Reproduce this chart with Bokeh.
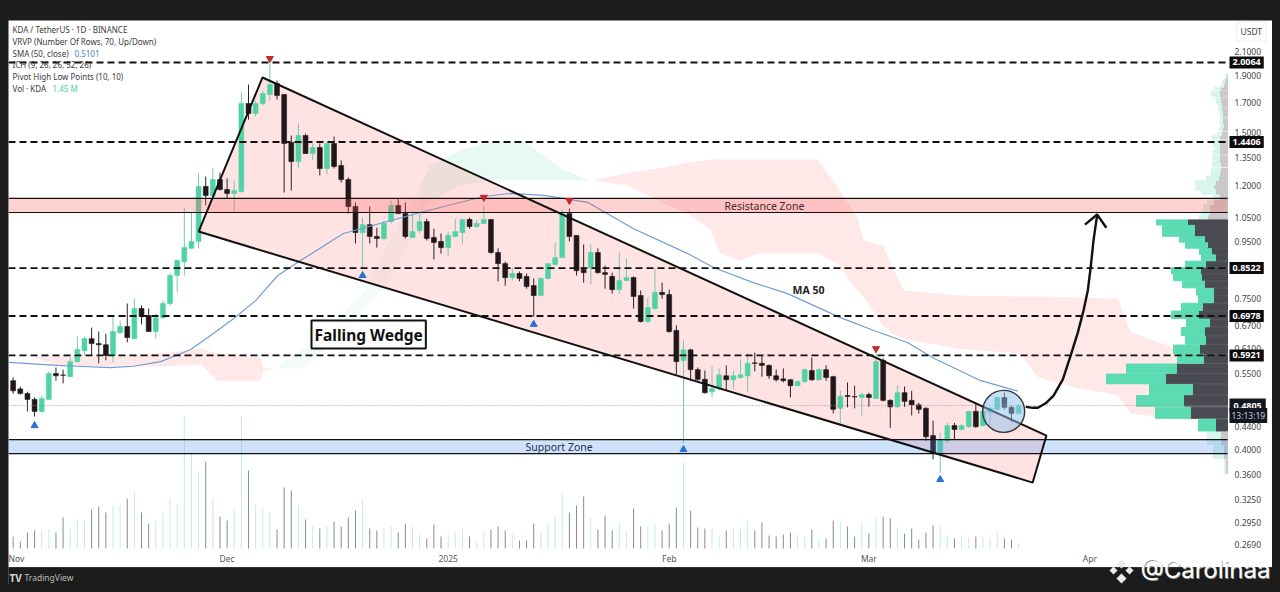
from bokeh.plotting import figure
from bokeh.embed import file_html
from bokeh.resources import INLINE
from bokeh.models import Label, Range1d, FixedTicker, NumeralTickFormatter, PolyAnnotation, LinearScale

# ---------- candles: day number counted from 1 Nov 2024 ----------
opens = [.533,.515,.505,.493,.469,.493,.549,.546,.542,.577,.604,.635,.622,.619,.592,.651,.668,.635,.720,.699,.654,.693,
 .735,.826,.875,.925,.952,1.197,1.153,1.232,1.182,1.163,1.172,1.691,1.622,1.691,1.756,1.838,1.756,1.438,1.328,1.480,1.373,1.408,1.290,1.432,1.306,1.232,1.101,.988,1.021,.972,.964,1.034,1.106,1.069,.968,.996,
 1.034,.968,.952,.928,.972,.988,1.043,1.013,1.026,1.043,.909,.868,.819,.833,.823,.792,.760,.816,.865,.890,1.069,.976,.847,.854,.909,.836,.823,.779,.809,.819,.760,.682,.720,.770,.763,.657,.580,.606,.558,.536,.509,.516,.544,.535,.540,.544,.574,.573,.568,.544,.537,.535,.522,.531,.556,.535,.558,.542,.475,
 .501,.499,.497,.503,.495,.580,.491,.478,.507,.491,.482,.475,.424,.394,.415,.442,.435,.440,.469,.442,.467,.473,.497,.477,.465]
highs = [.540,.520,.509,.497,.501,.554,.563,.558,.587,.640,.640,.665,.654,.648,.696,.685,.735,.750,.729,.720,.705,.744,
 .835,.883,1.097,1.074,1.263,1.248,1.295,1.268,1.238,1.227,1.771,1.830,1.712,1.785,1.998,1.861,1.756,1.480,1.556,1.492,1.432,1.432,1.438,1.474,1.334,1.243,1.120,1.051,1.101,1.008,1.039,1.129,1.138,1.120,1.069,1.069,
 1.047,1.004,.984,.992,1.047,1.047,1.051,1.043,1.106,1.043,.925,.875,.854,.840,.833,.816,.819,.868,.948,1.088,1.092,.976,.940,.940,.925,.861,.836,.909,.886,.823,.776,.754,.850,.802,.779,.671,.630,.609,.563,.556,.566,.561,.568,.556,.582,.597,.599,.592,.570,.558,.561,.537,.533,.561,.587,.563,.568,.544,.511,
 .529,.522,.507,.507,.597,.585,.493,.522,.520,.511,.486,.477,.451,.429,.447,.447,.445,.469,.485,.477,.477,.499,.507,.480,.483]
lows = [.505,.503,.469,.459,.467,.493,.533,.527,.542,.575,.592,.592,.573,.580,.575,.648,.625,.633,.674,.654,.635,.690,
 .729,.770,.826,.925,.925,1.106,1.143,1.177,1.138,1.074,1.167,1.582,1.602,1.677,1.712,1.719,1.167,1.177,1.290,1.373,1.334,1.253,1.258,1.290,1.217,1.069,.944,.854,.944,.928,.956,1.026,1.069,.964,.968,.984,
 .956,.883,.905,.894,.968,.944,1.004,1.008,1.026,.905,.806,.792,.809,.806,.782,.696,.757,.812,.861,.890,.952,.826,.802,.796,.833,.782,.766,.766,.806,.720,.679,.679,.717,.750,.651,.547,.411,.533,.533,.505,.497,.511,.511,.514,.537,.509,.554,.542,.537,.531,.529,.497,.520,.527,.533,.533,.533,.465,.447,
 .477,.475,.461,.478,.495,.489,.438,.475,.478,.461,.465,.415,.384,.363,.411,.418,.433,.438,.438,.440,.443,.471,.473,.449,.463]
closes = [.511,.505,.493,.469,.495,.549,.544,.545,.577,.607,.635,.622,.619,.592,.654,.668,.638,.720,.696,.654,.693,.735,
 .826,.879,.928,.952,1.197,1.153,1.232,1.182,1.163,1.177,1.691,1.622,1.691,1.763,1.830,1.749,1.432,1.328,1.480,1.373,1.408,1.290,1.432,1.301,1.232,1.101,.988,1.021,.972,.964,1.026,1.106,1.069,.972,.992,1.034,
 .964,.948,.928,.976,.992,1.043,1.013,1.026,1.043,.909,.868,.819,.833,.816,.789,.760,.816,.868,.890,1.069,.972,.843,.836,.909,.836,.830,.779,.809,.819,.757,.682,.723,.770,.763,.654,.577,.606,.558,.536,.507,.516,.546,.535,.544,.546,.573,.573,.568,.544,.535,.533,.522,.531,.558,.535,.558,.540,.473,.499,
 .499,.498,.503,.497,.577,.491,.478,.507,.489,.482,.473,.422,.394,.417,.442,.435,.442,.469,.440,.469,.475,.497,.477,.465,.4805]
volumes = [12,7,16,18,19,19,16,31,20,28,28,39,42,36,43,43,50,57,36,25,28,36,51,44,132,95,75,87,50,32,28,39,132,78,44,40,36,19,61,58,43,29,22,20,22,27,22,31,38,50,20,18,20,22,16,25,22,15,
 10,24,12,14,16,19,12,7,16,19,22,18,14,8,8,25,16,25,32,55,36,43,52,31,19,33,18,26,18,40,22,23,25,18,25,41,86,38,21,20,20,12,18,20,19,28,18,26,13,12,14,16,14,12,19,10,10,28,27,
 22,12,25,15,31,32,30,21,15,20,9,16,23,23,12,10,11,10,12,11,10,18,10,9,5]

# ---------- SMA 50 ----------
ma_days = [-0.65,6.2,9,13.6,16.9,20.7,24.9,27.3,30.9,34,37.1,40.3,46.3,57.1,66,69.8,74.4,80.6,87,94.6,98.2,103.8,108.6,116,120.7,125.4,129.1,135.7,140.9]
ma_vals = [.575,.568,.566,.563,.566,.577,.607,.638,.690,.744,.826,.879,.984,1.074,1.148,1.163,1.153,1.120,1.004,.905,.854,.802,.766,.693,.657,.625,.585,.533,.5101]

# ---------- Ichimoku clouds ----------
red1_days = [2.9,6.6,13.6,21.6,26.3,28.7,34.7,35.1,36.8]
red1_top = [.589,.592,.589,.599,.609,.597,.587,.561,.561]
red1_bot = [.587,.566,.566,.566,.570,.533,.533,.556,.561]
green_low_days = [36.8,40.3,43.1,46.6,49.4,52.2,55,57.1]
green_low_top = [.561,.604,.630,.714,.776,.917,1.060,1.202]
green_low_bot = [.561,.561,.599,.643,.729,.792,.917,1.039]
green_days = [57.1,58.5,62.7,66.9,71.9,76.8,81]
green_top = [1.202,1.306,1.390,1.438,1.438,1.290,1.227]
green_bot = [1.039,1.129,1.202,1.227,1.227,1.227,1.227]
red2_days = [81.4,86.2,91.2,94.6,97.8,99.2,102,104.4,112.8,115.6,118.4,119.3,122,123.3,124.9,132.5,141.3,143.7,148.7,154.9,156.7,162.7,165.8,167]
red2_top = [1.227,1.268,1.295,1.322,1.339,1.339,1.339,1.339,1.339,1.192,1.051,.956,.936,.854,.776,.760,.757,.757,.754,.750,.652,.612,.592,.520]
red2_bot = [1.227,1.202,1.115,1.069,1.000,.905,.879,.905,.905,.868,.776,.754,.671,.649,.635,.609,.597,.540,.519,.501,.465,.455,.451,.520]

# ---------- volume profile ----------
vp_price = [.443,.4665,.490,.5135,.537,.5605,.584,.6075,.631,.6545,.678,.7015,.725,.7485,.772,.7955,.819,.8425,.866,.8895,.913,.9365,.960,.9835,1.007,1.0305]
vp_down = [12,37,44,35,62,51,24,28,22,23,18,29,25,14,14,23,26,27,22,12,16,20,23,33,33,40]
vp_up = [17,35,47,43,59,50,26,26,20,23,23,27,21,15,17,22,28,29,20,14,12,22,25,32,32,31]
vpf_price = [.3725,.396,.4195,1.054,1.075,1.10,1.12,1.145,1.17,1.19,1.215,1.24,1.26,1.28,1.31,1.33,1.35,1.38,1.40,1.42,1.44,1.47,1.49,1.52,1.54,1.56,1.58,1.61,1.63,1.65,1.68,1.70,1.72,1.75,1.77,1.80,1.82,1.85,1.87,1.90]
vpf_down = [2,4,7,20,18,18,14,8,12,14,12,9,8,7,7,8,8,8,8,8,8,8,6,5,4,5,5,5,5,6,6,7,7,8,8,7,4,3,2,1]
vpf_up = [1,10,13,8,8,6,6,6,14,18,20,12,8,9,8,6,7,6,4,6,8,7,4,3,2,2,2,2,3,3,3,4,5,8,8,6,2,2,1,1]

# ---------- levels, zones, pivots, drawings ----------
level_prices = [2.0064,1.4406,.8522,.6978,.5921]
level_texts = ["2.0064","1.4406","0.8522","0.6978","0.5921"]
last_price = .4805
resistance_zone = [1.074,1.139]
support_zone = [.3934,.417]
pivot_low_days = [3,49,73,94,130]
pivot_low_vals = [.442,.826,.674,.400,.353]
pivot_high_days = [36,66,78,121]
pivot_high_vals = [2.040,1.144,1.129,.609]
wedge_days = [26.0,34.97,144.9,142.97,26.0]
wedge_vals = [.992,1.885,.424,.3486,.992]
arrow_days = [142,143,143.7,144.8,145.9,147.2,148.3,149.3,150.1,150.7,151.1,151.5,152]
arrow_vals = [.478,.476,.476,.485,.501,.536,.592,.651,.714,.776,.854,.956,1.060]
head_days = [150.3,152,153.3]
head_vals = [1.021,1.065,1.008]
circle_day, circle_val = 138.9, .469
price_ticks = [2.1,1.9,1.7,1.5,1.35,1.2,1.05,.95,.75,.67,.61,.55,.48,.44,.40,.36,.325,.295,.269]
date_ticks = [0,30,61,92,120,151]
date_labels = ["Nov","Dec","2025","Feb","Mar","Apr"]
legend_lines = ["KDA / TetherUS · 1D · BINANCE","VRVP (Number Of Rows, 70, Up/Down)","SMA (50, close)","ICH (9, 26, 26, 52, 26)","Pivot High Low Points (10, 10)","Vol · KDA"]

UP, DOWN, DARK = "#4fd3a6", "#1f171a", "#1c1c1c"
DAY_MIN, DAY_MAX, DAY_VP = -0.655, 176.6, 170.3
PRICE_BOTTOM, PRICE_PANEL_END, PRICE_TOP = .2280, .2446, 2.39

p = figure(width=1264, height=576, output_backend="svg", toolbar_location=None,
           x_range=Range1d(DAY_MIN, DAY_MAX), y_range=Range1d(PRICE_BOTTOM, PRICE_TOP), y_axis_type="log",
           y_axis_location="right", min_border_left=0, min_border_right=0, min_border_top=12, min_border_bottom=0,
           background_fill_color="white", border_fill_color=DARK, outline_line_color=None)
p.grid.visible = False

p.extra_y_ranges = {"vol": Range1d(-36, 528)}
p.extra_y_scales = {"vol": LinearScale()}
p.extra_x_ranges = {"vp": Range1d(1219, -45)}
p.extra_x_scales = {"vp": LinearScale()}

# axes drawn inside the white panel
ya = p.yaxis[0]
ya.ticker = FixedTicker(ticks=price_ticks)
ya.formatter = NumeralTickFormatter(format="0.0000")
ya.major_label_text_font = "Noto Sans"; ya.major_label_text_font_size = "8.5px"; ya.major_label_text_color = "#444444"
ya.axis_line_color = None; ya.major_tick_line_color = None; ya.minor_tick_line_color = None
ya.major_label_standoff = -44
xa = p.xaxis[0]
xa.ticker = FixedTicker(ticks=date_ticks)
xa.major_label_overrides = dict(zip(date_ticks, date_labels))
xa.major_label_text_font = "Noto Sans"; xa.major_label_text_font_size = "8.5px"; xa.major_label_text_color = "#555555"
xa.axis_line_color = None; xa.major_tick_line_color = None; xa.minor_tick_line_color = None
xa.major_label_standoff = -38

days = list(range(len(opens)))
# dark footer strip under the white panel
p.quad(left=[DAY_MIN], right=[DAY_MAX], bottom=[PRICE_BOTTOM], top=[PRICE_PANEL_END], color=DARK)

# clouds
p.varea(red1_days, red1_top, red1_bot, fill_color="#ffe8e8")
p.varea(green_low_days, green_low_top, green_low_bot, fill_color="#f3fbf8")
p.varea(green_days, green_top, green_bot, fill_color="#e8f8f3")
p.varea(red2_days, red2_top, red2_bot, fill_color="#ffe8e8")

# wedge fill sits under the candles
p.patch(wedge_days, wedge_vals, fill_color="#ff8a8a", fill_alpha=.25, line_color=None)

# volume profile
def bars(prices, downs, ups, c_down, c_up):
    step = .0235 * .92
    bot = [v - step / 2 for v in prices]
    top = [v + step / 2 for v in prices]
    tot = [a + b for a, b in zip(downs, ups)]
    p.quad(left=downs, right=[0] * len(prices), bottom=bot, top=top, color=c_down, x_range_name="vp")
    p.quad(left=tot, right=downs, bottom=bot, top=top, color=c_up, x_range_name="vp")
bars(vpf_price, vpf_down, vpf_up, "#c9c9c9", "#d8f5ec")
bars(vp_price, vp_down, vp_up, "#4a4b52", "#5adbb2")

# volume bars
vol_colors = ["#c5ebe2" if c >= o else "#8c8c8c" for o, c in zip(opens, closes)]
p.segment(x0=days, x1=days, y0=[0] * len(days), y1=volumes, line_color=vol_colors, line_width=1, y_range_name="vol")

# candles
colors = [UP if c >= o else DOWN for o, c in zip(opens, closes)]
wick_colors = ["#7cc4b0" if c >= o else "#2a2426" for o, c in zip(opens, closes)]
p.segment(x0=days, x1=days, y0=lows, y1=highs, line_color=wick_colors, line_width=1)
p.vbar(x=days, width=0.68, top=[max(a, b) for a, b in zip(opens, closes)], bottom=[min(a, b) for a, b in zip(opens, closes)],
       fill_color=colors, line_color=colors, line_width=0.6)

# SMA
p.line(ma_days, ma_vals, line_color="#6f9fd2", line_width=1.2)

# last price dotted
p.line([DAY_MIN, DAY_VP], [last_price, last_price], line_color="#999999", line_width=1, line_dash=[1, 2])

# zones
for zone, col in ((resistance_zone, "#ff5a5a"), (support_zone, "#4f90f0")):
    p.quad(left=[DAY_MIN], right=[DAY_VP], bottom=[zone[0]], top=[zone[1]], fill_color=col, fill_alpha=.27, line_color=None)
    p.segment(x0=[DAY_MIN, DAY_MIN], x1=[DAY_VP, DAY_VP], y0=zone, y1=zone, line_color="#111111", line_width=1.2)

# wedge outline
p.line(wedge_days, wedge_vals, line_color="#111111", line_width=2)

# dashed levels
for lv in level_prices:
    p.line([DAY_MIN, DAY_VP], [lv, lv], line_color="#111111", line_width=1.8, line_dash=[7, 4])

# circle + arrow
p.scatter([circle_day], [circle_val], marker="circle", size=42, fill_color="#8fbdf0", fill_alpha=.5, line_color="#333333", line_width=1.4)
p.line(arrow_days, arrow_vals, line_color="#111111", line_width=2.4)
p.line(head_days, head_vals, line_color="#111111", line_width=2.4)

# pivots
p.scatter(pivot_low_days, pivot_low_vals, marker="triangle", size=7, color="#2a6fd6")
p.scatter(pivot_high_days, pivot_high_vals, marker="inverted_triangle", size=7, color="#c5282a")

# ---------- text ----------
def scr(text, x, y, size=8, color="#3a3a3a", font="Noto Sans", style="normal", align="left", **kw):
    lab = Label(x=x - 8, y=584 - y, x_units="screen", y_units="screen", text=text, text_font=font,
                text_font_size=f"{size}px", text_color=color, text_font_style=style, text_align=align,
                text_baseline="middle", **kw)
    p.add_layout(lab)

for i, line in enumerate(legend_lines):
    scr(line, 12, 29 + i * 11.8)
scr("0.5101", 74, 52.6, color="#3d83c9")
scr("1.45 M", 52, 88, color="#45cfa4")
scr("Resistance Zone", 724, 205, size=10.5, color="#4a2a2a")
scr("Support Zone", 525, 446, size=10.5, color="#22334d")
scr("MA 50", 792, 289, size=10.5, color="#222222", style="bold")
scr("Falling Wedge", 311, 334, size=15.5, color="#111111", style="bold", background_fill_color="white",
    border_line_color="#111111", border_line_width=2, padding=3)
scr("USDT", 1236, 31, size=8.5, color="#444444", background_fill_color="white", border_line_color="#eeeeee", padding=4)

for text, val in zip(level_texts, level_prices):
    p.add_layout(Label(x=1221, y=val, x_units="screen", y_units="data", text=text, text_font="Noto Sans", text_font_size="9px",
                       text_font_style="bold", text_color="white", text_baseline="middle", background_fill_color="#0c0c0c", padding=3))
p.add_layout(Label(x=1221, y=.4805, x_units="screen", y_units="data", text="0.4805", text_font="Noto Sans", text_font_size="9px",
                   text_font_style="bold", text_color="white", text_baseline="middle", background_fill_color="#131722", padding=4))
scr("13:13:19", 1229, 415, size=8.5, color="#c8cbd2", background_fill_color="#131722", padding=2)

# footer, watermark
scr("TV", 9, 577, size=10, color="#d8d8d8", style="bold")
scr("TradingView", 24, 577, size=8.5, color="#bdbdbd")
scr("@Carolinaa", 1140.7, 569.7, size=24, color="#9a9a9a", font="Inter")
scr("@Carolinaa", 1140, 569, size=24, color="#ffffff", font="Inter")

for cx, cy, r in ((1121, 564, 4), (1113, 570, 4), (1129, 570, 4), (1121, 578, 5)):
    p.add_layout(PolyAnnotation(xs=[cx - 8 - r, cx - 8, cx - 8 + r, cx - 8], ys=[584 - cy, 584 - cy + r, 584 - cy, 584 - cy - r],
                                xs_units="screen", ys_units="screen", fill_color="#ececec", fill_alpha=1, line_color="#9a9a9a", line_width=.5))

TEMPLATE = """{% block postamble %}<style>html{background:#1c1c1c;} body{background:#1c1c1c;margin:8px;}</style>{% endblock %}"""
open("out.html", "w").write(file_html(p, INLINE, template=TEMPLATE))
